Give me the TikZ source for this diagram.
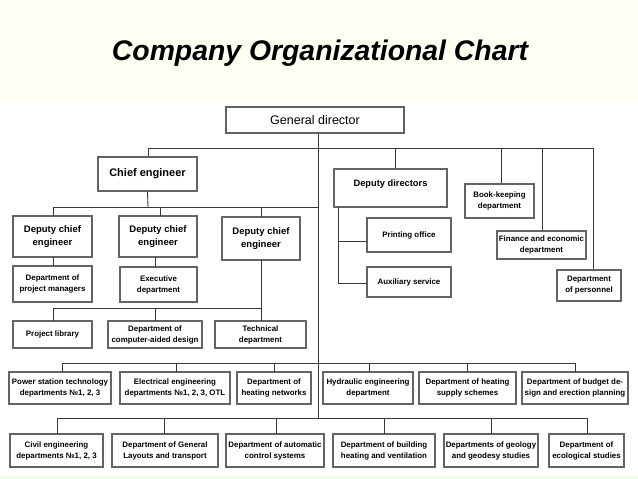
\documentclass[tikz,border=0pt]{standalone}
\usepackage{fontspec}
\setmainfont{Liberation Sans}
\usepackage{graphicx}
\definecolor{creambg}{RGB}{253,255,242}
\definecolor{greenbg}{RGB}{240,255,236}
\definecolor{boxgray}{RGB}{100,100,100}
\definecolor{linegray}{RGB}{55,55,55}
\tikzset{
  box/.style={draw=boxgray, line width=1.1pt, fill=white, inner sep=0pt, align=center},
  smallbox/.style={box, font=\fontsize{7.9}{11}\selectfont\bfseries},
  wire/.style={draw=linegray, line width=0.9pt},
}
\newcommand{\bx}[6]{% name, cx, cy, w, h, style
}
\begin{document}
\begin{tikzpicture}[x=1pt,y=-1pt]
\useasboundingbox (0,0) rectangle (638,479);
\fill[white] (0,0) rectangle (638,479);
\fill[creambg] (0,0) rectangle (638,101);
\fill[greenbg] (0,476) rectangle (638,479);

\node[anchor=base, inner sep=0pt] (title) at (320,60)
  {\resizebox{416pt}{!}{\bfseries\itshape Company Organizational Chart}};

% coordinates for connectors
\coordinate (tA) at (318,148);
\coordinate (tB) at (318,207);
\coordinate (tC) at (318,363);
\coordinate (tD) at (318,418);

% wires first
\begin{scope}[wire]
\draw (318,133) -- (tD);
\draw (148,148) -- (593,148);
\draw (148,148) -- (148,157);
\draw (395,148) -- (395,169);
\draw (501,148) -- (501,184);
\draw (542,148) -- (542,231);
\draw (593,148) -- (593,270);
\end{scope}

% nodes
\node[box, minimum width=178pt, minimum height=26pt, font=\fontsize{12.5}{14}\selectfont] (gd) at (315,120) {General director};
\node[box, minimum width=99pt, minimum height=34pt, font=\fontsize{11}{13}\selectfont\bfseries] (ce) at (147.5,174) {Chief engineer};
\tikzset{dcebox/.style={box, font=\fontsize{9.5}{12.3}\selectfont\bfseries}}
\node[dcebox, minimum width=79pt, minimum height=41pt] (dce1) at (52.5,236.5) {Deputy chief\\engineer};
\node[dcebox, minimum width=78pt, minimum height=41pt] (dce2) at (158,236.5) {Deputy chief\\engineer};
\node[dcebox, minimum width=78pt, minimum height=43pt] (dce3) at (261,238.5) {Deputy chief\\engineer};
\node[smallbox, minimum width=79pt, minimum height=36pt] (dpm) at (52.5,284) {Department of\\project managers};
\node[smallbox, minimum width=77pt, minimum height=35pt] (exe) at (158.5,284.5) {Executive\\department};
\node[smallbox, minimum width=79pt, minimum height=27pt] (plib) at (52.5,334.5) {Project library};
\node[smallbox, minimum width=94pt, minimum height=27pt] (cad) at (155,334.5) {Department of\\computer-aided design};
\node[smallbox, minimum width=91pt, minimum height=27pt] (tech) at (260.5,334.5) {Technical\\department};

\node[box, minimum width=113pt, minimum height=38pt, font=\fontsize{9.3}{12}\selectfont\bfseries, text depth=9pt] (dd) at (390.5,188) {Deputy directors};
\node[smallbox, minimum width=84pt, minimum height=34pt] (po) at (409,235) {Printing office};
\node[smallbox, minimum width=84pt, minimum height=30pt] (aux) at (409,282) {Auxiliary service};
\node[smallbox, minimum width=69pt, minimum height=34pt] (bk) at (499.5,201) {Book-keeping\\department};
\node[smallbox, minimum width=89pt, minimum height=28pt] (fin) at (541.5,245) {Finance and economic\\department};
\node[smallbox, minimum width=64pt, minimum height=31pt] (pers) at (589,285.5) {Department\\of personnel};

% row 1
\node[smallbox, minimum width=102pt, minimum height=32pt] (r1a) at (60,388) {Power station technology\\departments №1, 2, 3};
\node[smallbox, minimum width=110pt, minimum height=32pt] (r1b) at (175,388) {Electrical engineering\\departments №1, 2, 3, OTL};
\node[smallbox, minimum width=74pt, minimum height=32pt] (r1c) at (274,388) {Department of\\heating networks};
\node[smallbox, minimum width=90pt, minimum height=32pt] (r1d) at (368,388) {Hydraulic engineering\\department};
\node[smallbox, minimum width=97pt, minimum height=32pt] (r1e) at (467.5,388) {Department of heating\\supply schemes};
\node[smallbox, minimum width=106pt, minimum height=32pt] (r1f) at (575,388) {Department of budget de-\\sign and erection planning};
% row 2
\node[smallbox, minimum width=93pt, minimum height=33pt] (r2a) at (56.5,450.5) {Civil engineering\\departments №1, 2, 3};
\node[smallbox, minimum width=106pt, minimum height=33pt] (r2b) at (165,450.5) {Department of General\\Layouts and transport};
\node[smallbox, minimum width=98pt, minimum height=33pt] (r2c) at (275,450.5) {Department of automatic\\control systems};
\node[smallbox, minimum width=102pt, minimum height=33pt] (r2d) at (384,450.5) {Department of building\\heating and ventilation};
\node[smallbox, minimum width=94pt, minimum height=33pt] (r2e) at (491,450.5) {Departments of geology\\and geodesy studies};
\node[smallbox, minimum width=75pt, minimum height=33pt] (r2f) at (586.5,450.5) {Department of\\ecological studies};

\begin{scope}[wire]
% chief engineer branch
\draw (ce.south) -- (148,207);
\draw (53,207) -- (tB);
\draw (53,207) -- (53,216);
\draw (160,207) -- (160,216);
\draw (261,207) -- (261,217);
\draw (53,257) -- (53,266);
\draw (155,257) -- (155,267);
\draw (261,260) -- (261,308);
\draw (53,308) -- (261,308);
\draw (53,308) -- (53,321);
\draw (155,308) -- (155,321);
\draw (261,308) -- (261,321);
% deputy directors
\draw (338,207) -- (338,283);
\draw (338,241) -- (367,241);
\draw (338,283) -- (367,283);
% row 1
\draw (62,363) -- (575,363);
\foreach \xx in {62,176,274,369,467,575} \draw (\xx,363) -- (\xx,372);
% row 2
\draw (57,418) -- (587,418);
\foreach \xx in {57,164,276,384,491,587} \draw (\xx,418) -- (\xx,434);
\end{scope}
\end{tikzpicture}
\end{document}
